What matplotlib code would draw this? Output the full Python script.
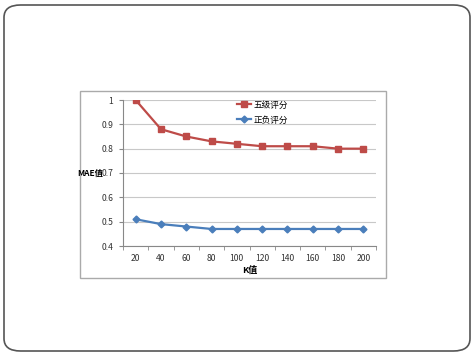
import matplotlib.pyplot as plt
from matplotlib.patches import FancyBboxPatch, Rectangle

plt.rcParams['font.family'] = ['Noto Sans CJK SC', 'DejaVu Sans']

# Data
k_values = ['20', '40', '60', '80', '100', '120', '140', '160', '180', '200']
mae_five = [1.0, 0.88, 0.85, 0.83, 0.82, 0.81, 0.81, 0.81, 0.80, 0.80]
mae_pn = [0.51, 0.49, 0.48, 0.47, 0.47, 0.47, 0.47, 0.47, 0.47, 0.47]
y_ticks = [0.4, 0.5, 0.6, 0.7, 0.8, 0.9, 1.0]
y_labels = ['0.4', '0.5', '0.6', '0.7', '0.8', '0.9', '1']

W, H = 474, 355
fig = plt.figure(figsize=(W / 100, H / 100), dpi=100)

# slide frame with rounded corners
fig.patches.append(FancyBboxPatch((4 / W, 4 / H), 466 / W, 346 / H,
                                  boxstyle='round,pad=0,rounding_size=0.035',
                                  transform=fig.transFigure, fill=False,
                                  edgecolor='#555555', linewidth=1.2, zorder=-2))
# chart box
fig.patches.append(Rectangle((80 / W, 1 - 278 / H), 306 / W, 187 / H,
                             transform=fig.transFigure, facecolor='white',
                             edgecolor='#aaaaaa', linewidth=1.0, zorder=-1))

ax = fig.add_axes([123 / W, 1 - 246 / H, 253 / W, 146 / H])
ax.set_zorder(2)
ax.patch.set_alpha(0)
x = list(range(len(k_values)))
ax.plot(x, mae_five, color='#BE4B48', marker='s', markersize=5, linewidth=1.6,
        label='五级评分')
ax.plot(x, mae_pn, color='#4A7EBB', marker='D', markersize=3.5, linewidth=1.6,
        label='正负评分')

ax.set_xlim(-0.5, len(k_values) - 0.5)
ax.set_ylim(0.4, 1.0)
ax.set_yticks(y_ticks)
ax.set_yticklabels(y_labels)
ax.set_xticks(x)
ax.set_xticklabels(k_values)
ax.set_xticks([i - 0.5 for i in range(len(k_values) + 1)], minor=True)
ax.tick_params(axis='x', which='major', length=0, labelsize=6.2, pad=6, colors='#333333')
ax.tick_params(axis='x', which='minor', length=3, color='#888888')
ax.tick_params(axis='y', length=3, labelsize=6.2, color='#888888', labelcolor='#333333', pad=4)
ax.grid(axis='y', color='#c8c8c8', linewidth=0.8)
ax.set_axisbelow(True)
for s in ['top', 'right']:
    ax.spines[s].set_visible(False)
ax.spines['left'].set_color('#888888')
ax.spines['bottom'].set_color('#888888')

ax.set_xlabel('K值', fontsize=6.5, fontweight='bold', labelpad=2)
ax.set_ylabel('MAE值', fontsize=6, fontweight='bold', rotation=0,
              ha='right', va='center')
ax.yaxis.set_label_coords(-0.08, 0.5)

ax.legend(loc='upper left', bbox_to_anchor=(0.42, 1.05), frameon=False,
          fontsize=6.2, handlelength=1.6, handletextpad=0.3, labelspacing=0.7)

fig.savefig('out.png', dpi=100)
